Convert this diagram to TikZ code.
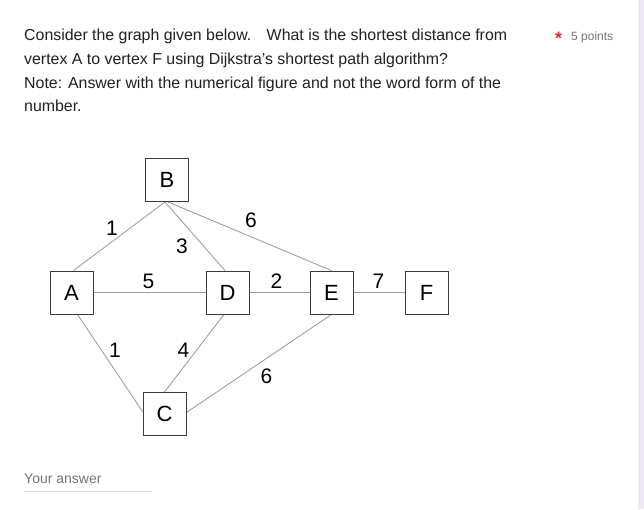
\documentclass[tikz,border=0pt]{standalone}
\usepackage{fontspec}
\setmainfont{Liberation Sans}
\definecolor{edgegray}{HTML}{A0A0A0}
\definecolor{boxgray}{HTML}{3A3A3A}
\definecolor{txt}{HTML}{202124}
\definecolor{muted}{HTML}{70757A}
\definecolor{lav}{HTML}{EDE7F6}
\definecolor{cardline}{HTML}{DADCE0}
\definecolor{starred}{HTML}{D93025}
\begin{document}
\begin{tikzpicture}[x=1pt,y=-1pt,
  vbox/.style={draw=boxgray,line width=0.9pt,fill=white,minimum width=43pt,minimum height=43pt,inner sep=0pt,font=\fontsize{22}{22}\selectfont,text=black},
  edge/.style={draw=edgegray,line width=0.9pt},
  wlabel/.style={font=\fontsize{21}{21}\selectfont,text=black,inner sep=0pt},
  qtext/.style={anchor=base west,inner sep=0pt,font=\fontsize{15.9}{15.9}\selectfont,text=txt}]
\useasboundingbox (0,0) rectangle (644,509);
\fill[lav] (0,0) rectangle (644,509);
\fill[white,draw=cardline,line width=0.6pt] (-5,-5) -- (631,-5) arc[start angle=90,end angle=0,radius=8] -- (639,515) -- (-5,515) -- cycle;
% question
\node[qtext] (q1) at (24,40) {Consider the graph given below.\hspace{0.6em} What is the shortest distance from};
\node[qtext] (q2) at (24,64) {vertex A to vertex F using Dijkstra’s shortest path algorithm?};
\node[qtext] (q3) at (24,88) {Note: Answer with the numerical figure and not the word form of the};
\node[qtext] (q4) at (24,111) {number.};
\node[anchor=base west,inner sep=0pt,text=starred,font=\fontsize{18}{18}\selectfont\bfseries] (star) at (555,44) {*};
\node[anchor=base west,inner sep=0pt,text=muted,font=\fontsize{12}{12}\selectfont] (pts) at (571,40) {5 points};
% graph
\node[vbox] (B) at (167,180) {B};
\node[vbox] (A) at (71.5,292.5) {A};
\node[vbox] (D) at (227.5,292.5) {D};
\node[vbox] (E) at (331.5,292.5) {E};
\node[vbox] (F) at (426.5,292.5) {F};
\node[vbox] (C) at (164.5,414) {C};
\draw[edge] ([xshift=2pt]A.north) -- ([xshift=-2pt]B.south);
\draw[edge] ([xshift=-2pt]B.south) -- ([xshift=-2.5pt]D.north);
\draw[edge] ([xshift=1pt]B.south) -- (E.north);
\draw[edge] (A.east) -- (D.west);
\draw[edge] (D.east) -- (E.west);
\draw[edge] (E.east) -- (F.west);
\draw[edge] ([xshift=6pt]A.south) -- ([yshift=2.5pt]C.west);
\draw[edge] ([xshift=-3.5pt]D.south) -- (C.north);
\draw[edge] (E.south) -- ([yshift=1.5pt]C.east);
% redraw boxes on top
\node[vbox] at (B) {B};
\node[vbox] at (A) {A};
\node[vbox] at (D) {D};
\node[vbox] at (E) {E};
\node[vbox] at (F) {F};
\node[vbox] at (C) {C};
\node[wlabel] (lab) at (112,228) {1};
\node[wlabel] (lbd) at (182,246.5) {3};
\node[wlabel] (lbe) at (251,220) {6};
\node[wlabel] (lad) at (148.5,281) {5};
\node[wlabel] (lde) at (276.5,281) {2};
\node[wlabel] (lef) at (378.5,281) {7};
\node[wlabel] (lac) at (115,350) {1};
\node[wlabel] (ldc) at (183.5,350) {4};
\node[wlabel] (lec) at (266.5,376.5) {6};
% answer
\node[anchor=base west,inner sep=0pt,text=muted,font=\fontsize{14}{14}\selectfont] (ans) at (24,483) {Your answer};
\coordinate (u1) at (24,491.5);
\coordinate (u2) at (152,491.5);
\draw[cardline,line width=0.8pt] (u1) -- (u2);
\end{tikzpicture}
\end{document}
